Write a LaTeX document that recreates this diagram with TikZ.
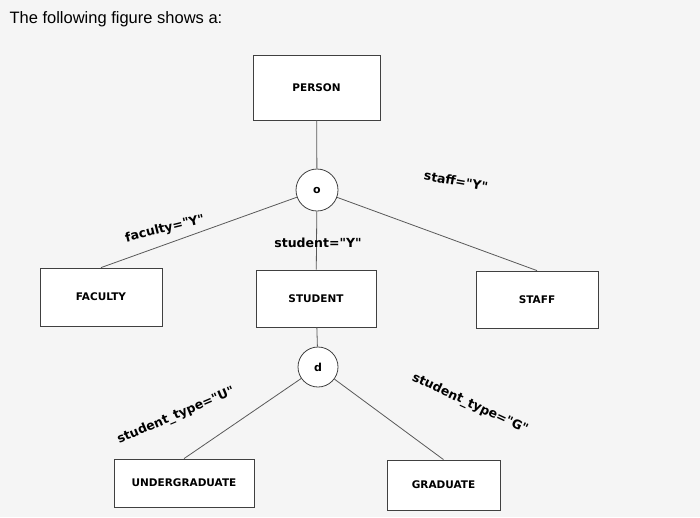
\documentclass[tikz,border=0pt]{standalone}
\usepackage{fontspec}
\setmainfont{Liberation Sans}
\newfontfamily\vfont{DejaVu Sans}
\begin{document}
\begin{tikzpicture}[x=1pt,y=-1pt,
  ent/.style={draw=black!75,fill=white,line width=0.8pt,inner sep=0pt,font=\vfont\bfseries\fontsize{10.5}{12}\selectfont},
  circ/.style={draw=black!75,fill=white,circle,line width=0.8pt,minimum size=42pt,inner sep=0pt,font=\vfont\bfseries\fontsize{11}{12}\selectfont},
  lab/.style={font=\vfont\bfseries\fontsize{12.5}{14}\selectfont},
  ln/.style={draw=black!65,line width=0.8pt}]
\fill[black!4] (0,0) rectangle (700,517);
\useasboundingbox (0,0) rectangle (700,517);
\node[anchor=west,font=\fontsize{16.5}{18}\selectfont] (title) at (6,19) {The following figure shows a:};
\node[ent,minimum width=127pt,minimum height=65pt] (person) at (316.5,87.5) {PERSON};
\node[circ] (o) at (317,190) {o};
\node[ent,minimum width=122pt,minimum height=58pt] (faculty) at (101,297) {FACULTY};
\node[ent,minimum width=120pt,minimum height=57pt] (student) at (316,298.5) {STUDENT};
\node[ent,minimum width=122pt,minimum height=57pt] (staff) at (537,299.5) {STAFF};
\node[circ,minimum size=40pt] (d) at (318,367) {d};
\node[ent,minimum width=140pt,minimum height=48pt] (ug) at (184,483) {UNDERGRADUATE};
\node[ent,minimum width=113pt,minimum height=50pt] (gr) at (443.5,485) {GRADUATE};
\draw[ln] (person) -- (o);
\draw[ln] (o) -- (faculty.north);
\draw[ln] (o) -- (staff.north);
\draw[ln] (o) -- (student);
\draw[ln] (student) -- (d);
\draw[ln] (d) -- (ug.north);
\draw[ln] (d) -- (gr.north);
\node[lab,rotate=14] (l1) at (165,229) {faculty="Y"};
\node[lab] (l2) at (318,243) {student="Y"};
\node[lab,rotate=-10] (l3) at (456,181) {staff="Y"};
\node[lab,rotate=23] (l4) at (176,416) {student\_type="U"};
\node[lab,rotate=-25] (l5) at (470,404) {student\_type="G"};
\end{tikzpicture}
\end{document}
